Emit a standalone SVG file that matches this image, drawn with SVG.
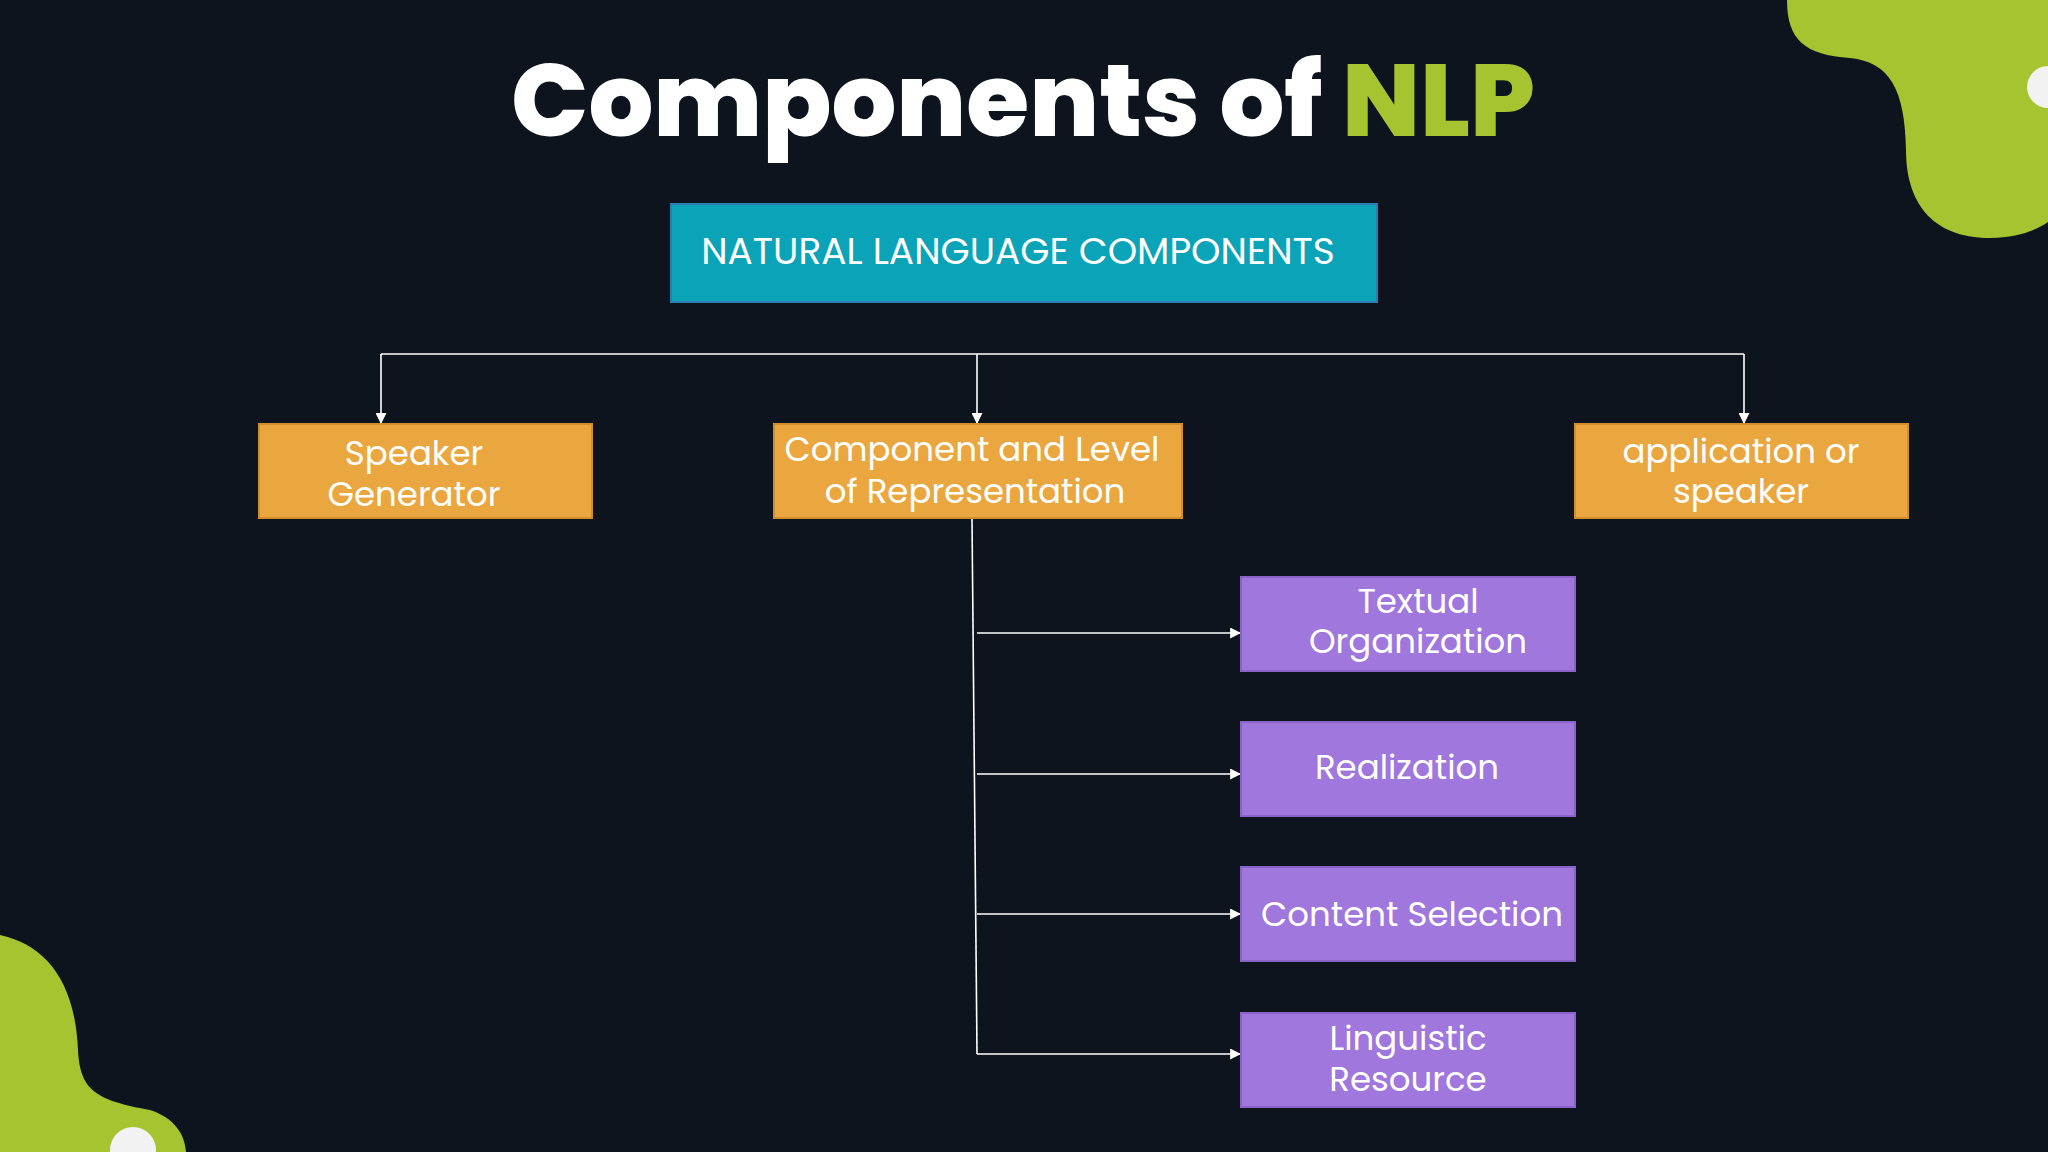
<svg xmlns="http://www.w3.org/2000/svg" width="2048" height="1152" viewBox="0 0 2048 1152">
<defs>
<style>
.t{font-family:Poppins,"Open Sans","Liberation Sans",sans-serif;fill:#fff;text-anchor:middle;dominant-baseline:central}
.o{fill:#eba73f;stroke:#d08e2c;stroke-width:2}
.p{fill:#a077dc;stroke:#8a63c8;stroke-width:2}
.c{stroke:#fff;stroke-width:1.6;fill:none;marker-end:url(#a)}
</style>
<marker id="a" viewBox="0 0 10 10" refX="9" refY="5" markerWidth="11" markerHeight="11" orient="auto" markerUnits="userSpaceOnUse"><path d="M0,0L10,5L0,10z" fill="#fff"/></marker>
</defs>
<rect width="2048" height="1152" fill="#0e141d"/>
<path d="M1787,0 C1787,40 1805,55 1850,58 C1890,62 1905,90 1906,150 C1906,200 1930,238 1990,238 C2020,238 2040,228 2048,222 L2048,0Z" fill="#a6c330"/>
<circle cx="2048" cy="87" r="21" fill="#f2f2f2"/>
<path d="M0,935 C45,945 75,980 78,1050 C80,1090 95,1100 150,1110 C175,1118 185,1135 186,1152 L0,1152Z" fill="#a6c330"/>
<circle cx="133" cy="1150" r="23" fill="#f2f2f2"/>
<text x="1023" y="100" class="t" style="font-weight:800;font-size:102px"><tspan>Components of </tspan><tspan fill="#a6c330">NLP</tspan></text>
<g id="connectors">
<path d="M381,354H1744" stroke="#fff" stroke-width="1.6"/>
<path class="c" d="M381,354V423"/>
<path class="c" d="M977,354V423"/>
<path class="c" d="M1744,354V423"/>
<path d="M972,519L977,1054" stroke="#fff" stroke-width="1.6"/>
<path class="c" d="M977,633H1240"/>
<path class="c" d="M977,774H1240"/>
<path class="c" d="M977,914H1240"/>
<path class="c" d="M977,1054H1240"/>
</g>
<g id="root"><rect x="671" y="204" width="706" height="98" fill="#0aa3b8" stroke="#2a7fb0" stroke-width="2"/><text x="1018" y="251" class="t" style="font-size:37.5px">NATURAL LANGUAGE COMPONENTS</text></g>
<g id="speaker"><rect class="o" x="259" y="424" width="333" height="94"/><text class="t" x="414" y="453" style="font-size:34px">Speaker</text><text class="t" x="414" y="494" style="font-size:34px">Generator</text></g>
<g id="component"><rect class="o" x="774" y="424" width="408" height="94"/><text class="t" x="972" y="449" style="font-size:34px">Component and Level</text><text class="t" x="975" y="491" style="font-size:34px">of Representation</text></g>
<g id="application"><rect class="o" x="1575" y="424" width="333" height="94" stroke="#3b5f9a"/><text class="t" x="1741" y="451" style="font-size:34px">application or</text><text class="t" x="1741" y="491" style="font-size:34px">speaker</text></g>
<g id="textual"><rect class="p" x="1241" y="577" width="334" height="94"/><text class="t" x="1418" y="601" style="font-size:34px">Textual</text><text class="t" x="1418" y="641" style="font-size:34px">Organization</text></g>
<g id="realization"><rect class="p" x="1241" y="722" width="334" height="94" stroke="#3b5f9a"/><text class="t" x="1407" y="767" style="font-size:34px">Realization</text></g>
<g id="content"><rect class="p" x="1241" y="867" width="334" height="94"/><text class="t" x="1412" y="914" style="font-size:34px">Content Selection</text></g>
<g id="linguistic"><rect class="p" x="1241" y="1013" width="334" height="94"/><text class="t" x="1408" y="1038" style="font-size:34px">Linguistic</text><text class="t" x="1408" y="1079" style="font-size:34px">Resource</text></g>
</svg>
